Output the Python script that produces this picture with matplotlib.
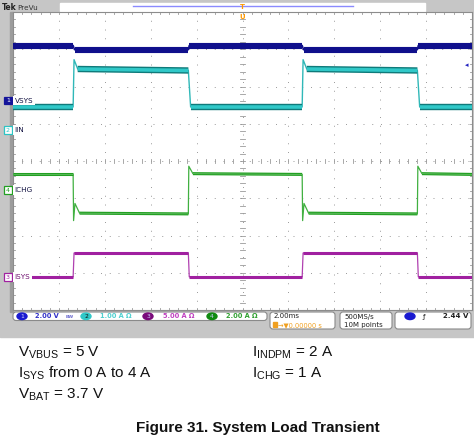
import matplotlib
matplotlib.use("Agg")
import matplotlib.pyplot as plt
from matplotlib.patches import Rectangle, FancyBboxPatch, Ellipse
import numpy as np

plt.rcParams['mathtext.fontset'] = 'custom'
plt.rcParams['mathtext.rm'] = 'Liberation Sans'
plt.rcParams['mathtext.it'] = 'Liberation Sans'

# ---------------- data (screen divisions) ----------------
n_hdiv = 10          # 2.00 ms/div
n_vdiv = 8
load_on_div = [1.31, 6.30]     # ISYS step 0 A -> 4 A
load_off_div = [3.82, 8.81]    # ISYS step 4 A -> 0 A

# levels in divisions above bottom graticule: [light load, heavy load]
vsys_levels = [7.10, 6.99]
iin_levels = [5.45, 6.43]
ichg_levels = [3.64, 2.58]
isys_levels = [0.89, 1.53]

# edge excursions: (time offset in div, level in div)
iin_on_shape = [(0.02, 6.72), (0.10, 6.47)]
iin_off_shape = [(0.05, 5.45)]
ichg_on_shape = [(0.01, 2.40), (0.04, 2.86), (0.14, 2.60)]
ichg_off_shape = [(0.01, 3.86), (0.10, 3.66)]
vsys_on_shape = [(0.03, 6.99)]
vsys_off_shape = [(0.02, 7.10)]
isys_on_shape = [(0.02, 1.53)]
isys_off_shape = [(0.02, 0.89)]

ch_names = ['VSYS', 'IIN', 'ICHG', 'ISYS']
ch_numbers = ['1', '2', '4', '3']
ch_marker_div = [5.62, 4.83, 3.22, 0.89]
ch_colors = ['#14149a', '#2cc4c4', '#22a022', '#a020a0']

scale_labels = ['2.00 V', '1.00 A \u03a9', '5.00 A \u03a9', '2.00 A \u03a9']
timebase_label = '2.00ms'
trigger_pos_label = '\u2192\u25bc0.00000 s'
sample_labels = ['500MS/s', '10M points']
trigger_level_label = '2.44 V'

cond_left = [r'$\mathregular{V_{VBUS}}$ = 5 V', r'$\mathregular{I_{SYS}}$ from 0 A to 4 A',
             r'$\mathregular{V_{BAT}}$ = 3.7 V']
cond_right = [r'$\mathregular{I_{INDPM}}$ = 2 A', r'$\mathregular{I_{CHG}}$ = 1 A']
title = 'Figure 31. System Load Transient'


def build(levels, on_shape, off_shape):
    lo, hi = levels
    xs, ys = [0.0], [lo]
    for a, b in zip(load_on_div, load_off_div):
        xs.append(a); ys.append(lo)
        for dt, v in on_shape:
            xs.append(a + dt); ys.append(v)
        xs.append(b); ys.append(hi)
        for dt, v in off_shape:
            xs.append(b + dt); ys.append(v)
    xs.append(n_hdiv); ys.append(lo)
    return xs, ys


def draw_trace(ax, xs, ys, layers, thin_color, thin_lw, z):
    ax.plot(xs, ys, color=thin_color, lw=thin_lw, zorder=z)
    for i in range(len(xs) - 1):
        if xs[i + 1] - xs[i] > 0.3:
            for col, lw in layers:
                ax.plot([xs[i], xs[i + 1]], [ys[i], ys[i + 1]], color=col, lw=lw,
                        solid_capstyle='butt', zorder=z)


W, H = 474, 440
fig = plt.figure(figsize=(W / 100, H / 100), dpi=100)
fig.patch.set_facecolor('white')

# background overlay in pixel coordinates
bg = fig.add_axes([0, 0, 1, 1])
bg.set_xlim(0, W)
bg.set_ylim(H, 0)
bg.axis('off')

bg.add_patch(Rectangle((0, 0), W, 337, color='#c6c6c6', zorder=0))
bg.add_patch(Rectangle((10, 12), 3, 300, color='#9c9c9c', zorder=1))
bg.add_patch(Rectangle((60, 3), 365, 8.5, color='white', zorder=1))
bg.plot([133, 353], [6.5, 6.5], color='#8a8aff', lw=1.0, zorder=2)
bg.text(2, 7.5, 'Tek', fontsize=5.5, fontweight='bold', va='center', ha='left', color='#222222')
bg.text(17, 7.5, 'PreVu', fontsize=5.2, va='center', ha='left', color='#333333')

# plot area
x0, x1, y0, y1 = 13, 472, 12, 310
ax = fig.add_axes([x0 / W, 1 - y1 / H, (x1 - x0) / W, (y1 - y0) / H])
ax.set_xlim(0, n_hdiv)
ax.set_ylim(0, n_vdiv)
ax.set_facecolor('white')
for s in ax.spines.values():
    s.set_color('#8c8c8c')
    s.set_linewidth(0.8)
ax.set_xticks([])
ax.set_yticks([])

for i in range(1, n_hdiv):
    ax.axvline(i, color='#9a9a9a', lw=0.7, ls=(0, (1, 8)), zorder=1)
for j in range(1, n_vdiv):
    ax.axhline(j, color='#9a9a9a', lw=0.7, ls=(0, (1, 8)), zorder=1)

# minor ticks on centre lines and edges
mx = np.arange(0, n_hdiv + 0.01, 0.2)
my = np.arange(0, n_vdiv + 0.01, 0.2)
tk = 0.06
tkx = 0.05
for xv in mx:
    ax.plot([xv, xv], [n_vdiv / 2 - tk, n_vdiv / 2 + tk], color='#9a9a9a', lw=0.6, zorder=1)
    ax.plot([xv, xv], [0, tk], color='#9a9a9a', lw=0.6, zorder=1)
    ax.plot([xv, xv], [n_vdiv - tk, n_vdiv], color='#9a9a9a', lw=0.6, zorder=1)
for yv in my:
    ax.plot([n_hdiv / 2 - tkx, n_hdiv / 2 + tkx], [yv, yv], color='#9a9a9a', lw=0.6, zorder=1)
    ax.plot([0, tkx], [yv, yv], color='#9a9a9a', lw=0.6, zorder=1)
    ax.plot([n_hdiv - tkx, n_hdiv], [yv, yv], color='#9a9a9a', lw=0.6, zorder=1)

# traces
xs, ys = build(iin_levels, iin_on_shape, iin_off_shape)
draw_trace(ax, xs, ys, [('#0f7a7a', 4.6), ('#30c8c8', 2.6)], '#30b8b8', 1.0, 3)
xs, ys = build(vsys_levels, vsys_on_shape, vsys_off_shape)
draw_trace(ax, xs, ys, [('#10108c', 4.4)], '#10108c', 1.2, 5)
xs, ys = build(ichg_levels, ichg_on_shape, ichg_off_shape)
draw_trace(ax, xs, ys, [('#22a022', 2.2), ('#6cc06c', 0.5)], '#40b040', 0.9, 3)
xs, ys = build(isys_levels, isys_on_shape, isys_off_shape)
draw_trace(ax, xs, ys, [('#a020a0', 2.2)], '#b040b0', 0.9, 3)

# foreground overlay
fg = fig.add_axes([0, 0, 1, 1])
fg.set_xlim(0, W)
fg.set_ylim(H, 0)
fg.axis('off')
fg.patch.set_alpha(0)

# channel markers
for name, num, yd, c in zip(ch_names, ch_numbers, ch_marker_div, ch_colors):
    py = y1 - (y1 - y0) * yd / n_vdiv
    fg.add_patch(Rectangle((4, py - 3.8), 8, 7.6, facecolor=c if num == '1' else 'white',
                           edgecolor=c, lw=0.9, zorder=3))
    fg.text(8, py + 0.3, num, fontsize=4.5, ha='center', va='center',
            color='white' if num == '1' else c, zorder=4)
    fg.text(14.5, py, name, fontsize=5.2, ha='left', va='center',
            color='#101040' if num != '3' else '#701070', zorder=4,
            bbox=dict(boxstyle='square,pad=0.25', facecolor='white', edgecolor='none'))

# trigger marker (top, orange)
fg.text(242, 7, 'T', fontsize=5, ha='center', va='center', color='#ff9900', fontweight='bold')
fg.text(242, 17, 'U', fontsize=5, ha='center', va='center', color='#ff9900', fontweight='bold')
# channel 1 trigger level marker on right
fg.text(467, 65, '\u25c2', fontsize=5, ha='center', va='center', color='#2020c0')


# status bar
def rbox(xa, xb, ya, yb):
    fg.add_patch(FancyBboxPatch((xa, ya), xb - xa, yb - ya,
                                boxstyle='round,pad=0,rounding_size=3',
                                facecolor='white', edgecolor='#8a8a8a', lw=0.8, zorder=2))


rbox(13, 267, 312, 320.5)
rbox(270, 335, 312, 329)
rbox(340, 392, 312, 329)
rbox(395, 471, 312, 329)

badge_x = [22, 86, 148, 212]
badge_cols = ['#1a1ad0', '#30c8c8', '#7a0a7a', '#108a10']
badge_nums = ['1', '2', '3', '4']
text_x = [35, 100, 163, 226]
text_cols = ['#3030c8', '#50d0d0', '#c040c0', '#30a030']
for bx, bc, bn, tx, lab, tc in zip(badge_x, badge_cols, badge_nums, text_x, scale_labels, text_cols):
    fg.add_patch(Ellipse((bx, 316.3), 10, 6.5, color=bc, zorder=3))
    fg.text(bx, 316.5, bn, fontsize=4.3, ha='center', va='center',
            color='#101010' if bn == '2' else '#d0d0ff', zorder=4)
    fg.text(tx, 316.5, lab, fontsize=4.8, ha='left', va='center', color=tc, fontweight='bold', zorder=4)
fg.text(70, 316.5, '\u0299w', fontsize=4.2, ha='center', va='center', color='#4040c0', zorder=4)

fg.text(274, 316.5, timebase_label, fontsize=5, ha='left', va='center', color='#202020', zorder=4)
fg.add_patch(Rectangle((273, 322.5), 4, 4.5, color='#f0a020', zorder=4))
fg.text(278, 325, trigger_pos_label, fontsize=4.8, ha='left', va='center', color='#f0a020', zorder=4)
fg.text(344, 316.5, sample_labels[0], fontsize=5, ha='left', va='center', color='#202020', zorder=4)
fg.text(344, 325, sample_labels[1], fontsize=5, ha='left', va='center', color='#202020', zorder=4)
fg.add_patch(Ellipse((410, 316.3), 10, 6.5, color='#1a1ad0', zorder=3))
fg.text(424, 316.5, '\u0192', fontsize=5, ha='center', va='center', color='#101010', zorder=4)
fg.text(468, 316.5, trigger_level_label, fontsize=5, ha='right', va='center', color='#202020',
        fontweight='bold', zorder=4)

# conditions text
for i, s in enumerate(cond_left):
    fg.text(18, 357 + 21 * i, s, fontsize=11, ha='left', va='baseline',
            family='Liberation Sans', color='#111111')
for i, s in enumerate(cond_right):
    fg.text(252, 357 + 21 * i, s, fontsize=11, ha='left', va='baseline',
            family='Liberation Sans', color='#111111')
fg.text(258, 432, title, fontsize=11, ha='center', va='baseline', fontweight='bold',
        family='Liberation Sans', color='#111111')

fig.savefig('out.png', dpi=100, facecolor='white')
